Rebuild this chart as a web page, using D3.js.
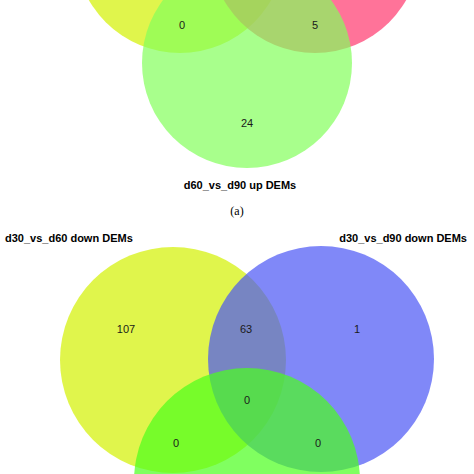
<!DOCTYPE html>
<html>
<head>
<meta charset="utf-8">
<script src="https://cdn.jsdelivr.net/npm/d3@7"></script>
<style>
  body { margin: 0; background: #fff; }
  text { font-family: "Liberation Sans", Arial, sans-serif; }
</style>
</head>
<body>
<svg class="chart"></svg>
<script>
var width = 474,
    height = 474;

// panel (a): partially visible, three up-regulated sets
var setsA = ["d30_vs_d60 up DEMs", "d30_vs_d90 up DEMs", "d60_vs_d90 up DEMs"];
var colorsA = ["#d3f100", "#ff376d", "#83ff5b"];
var countsA = [0, 5, 24]; // visible regions: yellow∩green, pink∩green, green only
// panel (b): down-regulated sets
var setsB = ["d30_vs_d60 down DEMs", "d30_vs_d90 down DEMs", "d60_vs_d90 down DEMs"];
var colorsB = ["#d3f100", "#4a55f5", "#4aff1c"];
var countsB = [107, 63, 1, 0, 0, 0]; // A only, A∩B, B only, A∩B∩C, A∩C, B∩C

// layout coordinates in units of circle radius (same shape as the R VennDiagram layout)
var x = d3.scaleLinear().domain([-1, 1]).range([173, 321]);

var chart = d3.select(".chart")
    .attr("width", width)
    .attr("height", height);

function venn(g, cy, r, colors, centers) {
  g.selectAll("circle")
    .data(centers)
    .enter().append("circle")
    .attr("cx", function(d) { return x(d[0]); })
    .attr("cy", function(d) { return cy + d[1] * r; })
    .attr("r", r)
    .attr("fill", function(d, i) { return colors[i]; })
    .attr("fill-opacity", 0.7);
}

// ---- panel (a) ----
var ga = chart.append("g");
var rA = 105;
var xa = d3.scaleLinear().domain([-1, 1]).range([180, 315]);
ga.selectAll("circle")
  .data([[-1, -52], [1, -52], [0, 63]])
  .enter().append("circle")
  .attr("cx", function(d) { return d[0] === 0 ? 247 : xa(d[0]); })
  .attr("cy", function(d) { return d[1]; })
  .attr("r", rA)
  .attr("fill", function(d, i) { return colorsA[i]; })
  .attr("fill-opacity", 0.7);

ga.selectAll("text.n")
  .data([[182, 25], [315, 25], [247, 123]])
  .enter().append("text")
  .attr("class", "n")
  .attr("x", function(d) { return d[0]; })
  .attr("y", function(d) { return d[1]; })
  .attr("dy", ".35em")
  .attr("text-anchor", "middle")
  .attr("font-size", 11)
  .attr("fill", "#1a1a1a")
  .text(function(d, i) { return countsA[i]; });

ga.append("text")
  .attr("x", 240).attr("y", 185).attr("dy", ".35em")
  .attr("text-anchor", "middle")
  .attr("font-size", 11).attr("font-weight", "bold")
  .text(setsA[2]);

chart.append("text")
  .attr("x", 237).attr("y", 211).attr("dy", ".35em")
  .attr("text-anchor", "middle")
  .attr("font-size", 12)
  .style("font-family", "Liberation Serif, serif")
  .text("(a)");

// ---- panel (b) ----
var gb = chart.append("g");
var rB = 113;
gb.selectAll("circle")
  .data([[173, 360], [321, 359], [247, 481]])
  .enter().append("circle")
  .attr("cx", function(d) { return d[0]; })
  .attr("cy", function(d) { return d[1]; })
  .attr("r", rB)
  .attr("fill", function(d, i) { return colorsB[i]; })
  .attr("fill-opacity", 0.7);

gb.selectAll("text.n")
  .data([[126, 329], [246, 329], [357, 329], [247, 400], [176, 443], [318, 443]])
  .enter().append("text")
  .attr("class", "n")
  .attr("x", function(d) { return d[0]; })
  .attr("y", function(d) { return d[1]; })
  .attr("dy", ".35em")
  .attr("text-anchor", "middle")
  .attr("font-size", 11)
  .attr("fill", "#1a1a1a")
  .text(function(d, i) { return countsB[i]; });

gb.append("text")
  .attr("x", 5).attr("y", 238).attr("dy", ".35em")
  .attr("font-size", 11).attr("font-weight", "bold")
  .text(setsB[0]);

gb.append("text")
  .attr("x", 467).attr("y", 238).attr("dy", ".35em")
  .attr("text-anchor", "end")
  .attr("font-size", 11).attr("font-weight", "bold")
  .text(setsB[1]);
</script>
</body>
</html>
